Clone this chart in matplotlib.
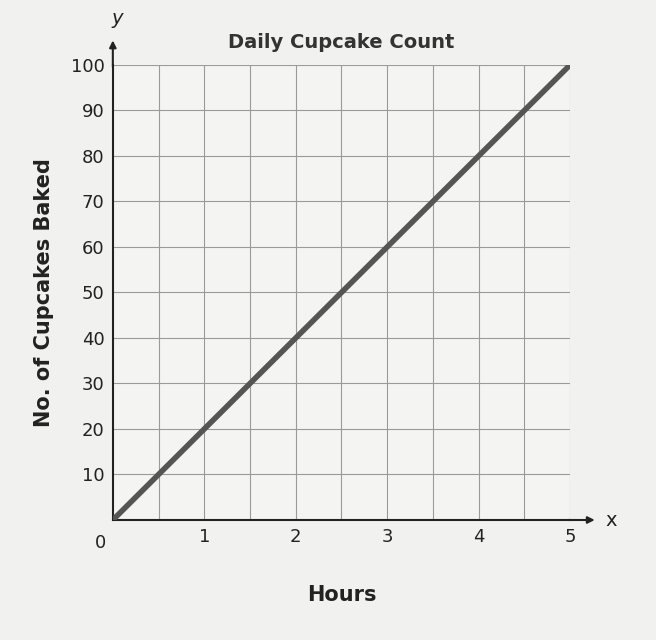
import matplotlib
matplotlib.use("Agg")
import matplotlib.pyplot as plt
import numpy as np

hours = [0, 5]
cupcakes = [0, 100]
x_ticks = [1, 2, 3, 4, 5]
y_ticks = [10, 20, 30, 40, 50, 60, 70, 80, 90, 100]

fig = plt.figure(figsize=(6.56, 6.4), dpi=100, facecolor="#f1f1ef")
ax = fig.add_axes([0.172, 0.1875, 0.697, 0.711])
ax.set_facecolor("#f4f4f2")
ax.set_xlim(0, 5)
ax.set_ylim(0, 100)

# light grid every half hour / 10 cupcakes
for gx in np.arange(0.5, 5.01, 0.5):
    ax.axvline(gx, color="#9a9a9a", lw=0.8, zorder=1)
for gy in y_ticks:
    ax.axhline(gy, color="#9a9a9a", lw=0.8, zorder=1)

ax.plot(hours, cupcakes, color="#555555", lw=4, solid_capstyle="round", zorder=3)

for s in ["top", "right"]:
    ax.spines[s].set_visible(False)
for s in ["left", "bottom"]:
    ax.spines[s].set_linewidth(1.5)
    ax.spines[s].set_color("#222222")

ax.set_xticks(x_ticks)
ax.set_yticks(y_ticks)
ax.tick_params(length=0, labelsize=13, colors="#222222", pad=6)
ax.text(-0.13, -3, "0", fontsize=13, ha="center", va="top", color="#222222")

# axis arrows
ax.annotate("", xy=(0, 106), xytext=(0, 99), annotation_clip=False,
            arrowprops=dict(arrowstyle="-|>", color="#222222", lw=1.5))
ax.annotate("", xy=(5.3, 0), xytext=(4.95, 0), annotation_clip=False,
            arrowprops=dict(arrowstyle="-|>", color="#222222", lw=1.5))
ax.text(0.05, 109, "y", fontsize=14, style="italic", ha="center", color="#222222")
ax.text(5.45, 0, "x", fontsize=14, ha="center", va="center", color="#222222")

ax.set_title("Daily Cupcake Count", fontsize=14, fontweight="bold", color="#333333", pad=12)
ax.set_xlabel("Hours", fontsize=15, fontweight="bold", color="#222222", labelpad=28)
ax.set_ylabel("No. of Cupcakes Baked", fontsize=15, fontweight="bold", color="#222222", labelpad=12)

fig.savefig("out.png", facecolor=fig.get_facecolor())
